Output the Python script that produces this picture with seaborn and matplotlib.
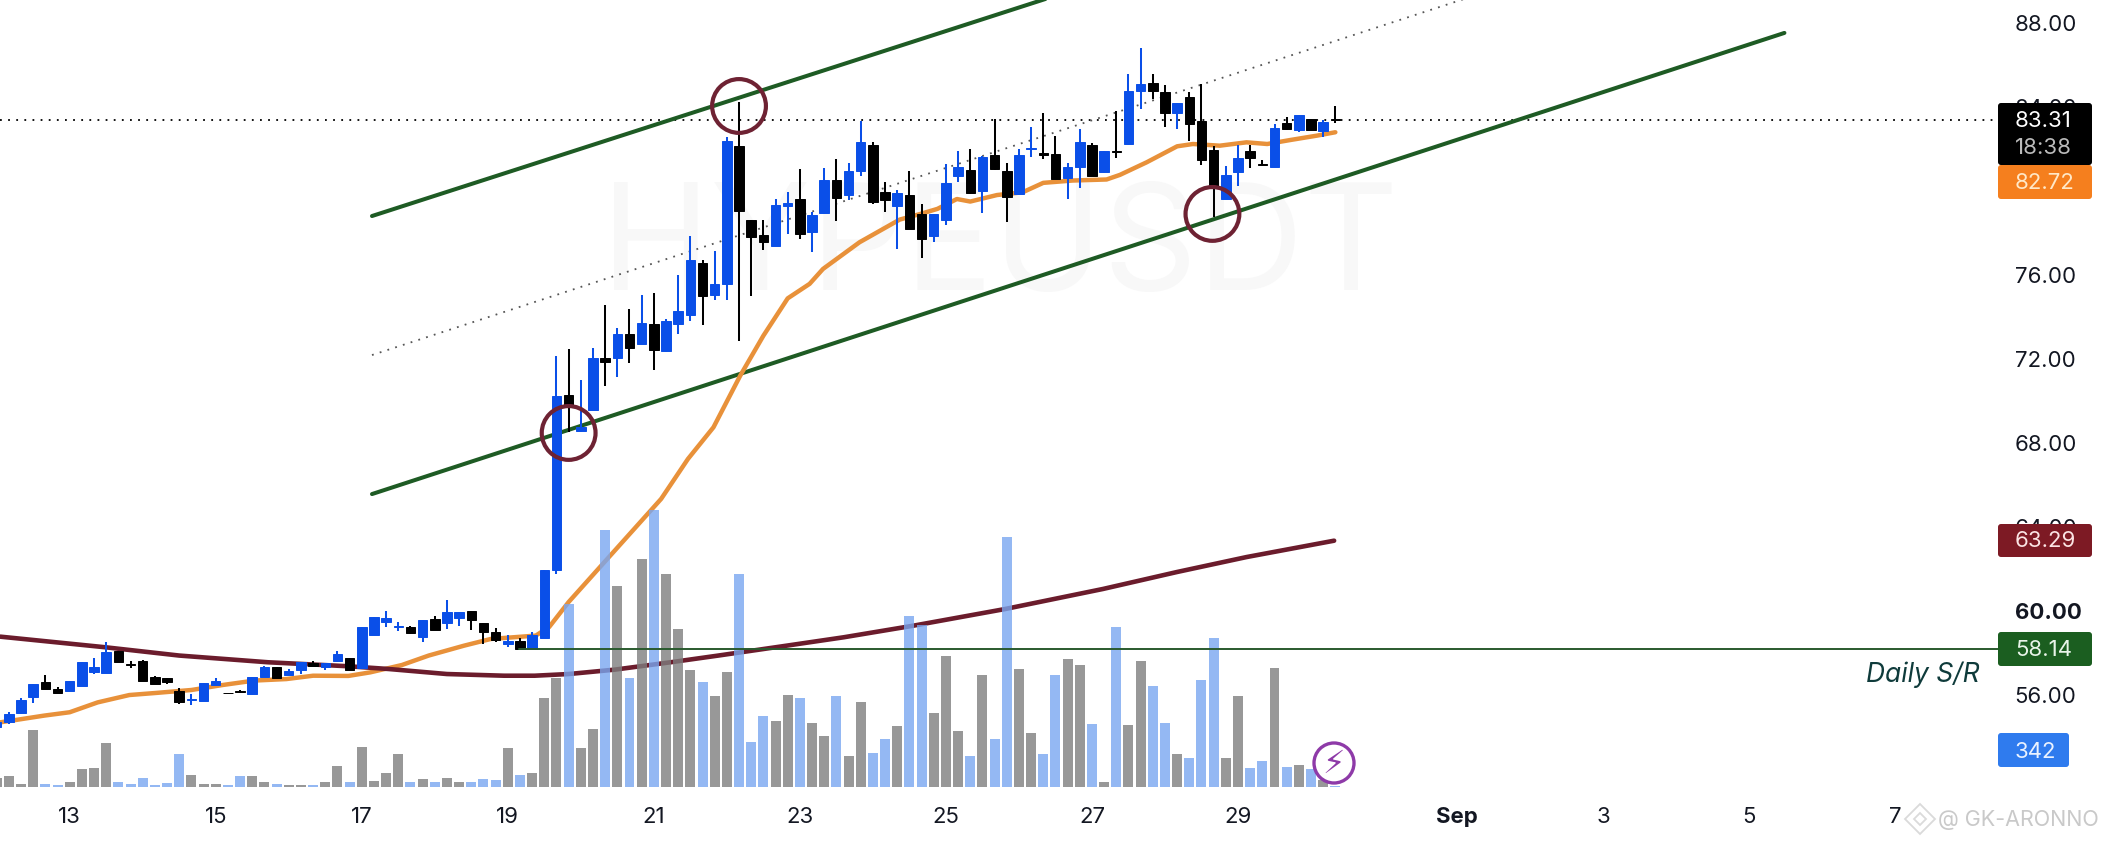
import numpy as np
import pandas as pd
import matplotlib
matplotlib.use('Agg')
import matplotlib.pyplot as plt
import matplotlib.transforms as mtrans
from matplotlib.lines import Line2D
from matplotlib.patches import Circle, FancyBboxPatch
import seaborn as sns

# 4h candles, first one is index -1
opens = [54.42, 54.68, 55.08, 55.87, 56.56, 56.22, 56.16, 56.40, 57.06, 57.02,
         58.03, 57.45, 57.56, 56.81, 56.75, 56.14, 55.70, 55.68, 56.43, 56.07,
         56.12, 56.02, 56.83, 57.27, 56.92, 57.16, 57.46, 57.30, 57.59, 57.70,
         57.22, 58.83, 59.41, 59.21, 59.18, 58.70, 59.57, 59.37, 59.60, 59.94,
         59.37, 58.94, 58.37, 58.51, 58.14, 58.68, 61.92, 70.24, 68.50, 69.54,
         71.99, 72.02, 73.14, 72.67, 73.61, 72.32, 73.62, 74.05, 76.53, 75.00,
         75.54, 82.08, 78.56, 77.86, 77.34, 79.26, 79.57, 78.02, 78.91, 80.46,
         79.76, 80.92, 82.14, 79.89, 79.26, 79.76, 78.84, 77.83, 78.59, 80.69,
         80.96, 79.96, 81.67, 80.91, 79.83, 81.96, 81.75, 81.72, 80.57, 81.10,
         82.15, 80.88, 81.88, 82.19, 84.72, 85.10, 84.65, 83.67, 84.43, 83.29,
         81.91, 79.57, 80.88, 81.84, 81.22, 81.11, 83.18, 82.88, 83.38, 82.81, 83.38]
highs = [54.70, 55.13, 55.80, 56.46, 56.91, 56.33, 56.60, 57.51, 57.72, 58.46,
         58.03, 57.59, 57.60, 56.85, 56.75, 56.27, 56.00, 56.51, 56.75, 56.07,
         56.18, 56.79, 57.35, 57.27, 57.19, 57.51, 57.56, 57.49, 58.05, 57.70,
         59.18, 59.65, 59.95, 59.41, 59.26, 59.51, 59.70, 60.46, 59.89, 59.94,
         59.37, 59.13, 58.81, 58.65, 58.94, 61.89, 72.08, 72.43, 70.95, 72.46,
         74.53, 73.41, 74.33, 75.00, 75.10, 73.86, 75.95, 77.80, 76.65, 77.10,
         82.51, 84.18, 78.56, 78.56, 79.57, 79.89, 81.00, 78.94, 81.05, 81.48,
         81.29, 83.29, 82.27, 80.37, 80.02, 80.92, 79.32, 78.84, 81.22, 81.86,
         81.96, 81.64, 83.38, 81.29, 81.96, 83.00, 83.67, 82.57, 81.29, 82.90,
         82.24, 81.86, 83.76, 85.53, 86.76, 85.53, 85.00, 84.15, 84.65, 85.05,
         82.08, 81.15, 82.15, 82.15, 81.45, 83.13, 83.48, 83.56, 83.38, 83.35, 84.00]
lows = [54.40, 54.57, 55.05, 55.56, 56.22, 56.06, 56.16, 56.40, 56.95, 57.02,
        57.54, 57.24, 56.64, 56.49, 56.48, 55.52, 55.49, 55.66, 56.43, 56.05,
        56.07, 56.02, 56.83, 56.78, 56.92, 56.95, 57.35, 57.16, 57.51, 57.16,
        57.22, 58.83, 59.19, 59.00, 58.84, 58.46, 59.06, 59.08, 59.26, 59.06,
        58.38, 58.46, 58.26, 58.14, 58.14, 58.68, 61.71, 68.49, 68.49, 69.54,
        70.68, 71.11, 71.76, 72.67, 71.45, 72.27, 73.14, 73.78, 73.57, 74.78,
        74.78, 72.83, 74.97, 77.16, 77.34, 77.92, 77.67, 77.07, 78.84, 78.53,
        79.51, 80.68, 79.32, 78.97, 77.19, 78.16, 76.78, 77.54, 78.35, 80.37,
        79.83, 78.91, 80.94, 78.46, 79.78, 81.57, 81.48, 80.53, 79.57, 80.11,
        80.67, 80.81, 81.53, 82.16, 83.86, 84.33, 83.00, 82.90, 82.33, 81.19,
        78.72, 79.57, 80.21, 81.07, 81.17, 81.11, 82.88, 82.78, 82.88, 82.53, 83.19]
closes = [54.65, 55.06, 55.70, 56.46, 56.22, 56.06, 56.60, 57.51, 57.27, 57.99,
          57.54, 57.40, 56.64, 56.49, 56.59, 55.60, 55.75, 56.51, 56.64, 56.05,
          56.09, 56.79, 57.27, 56.78, 57.08, 57.51, 57.35, 57.49, 57.91, 57.16,
          59.18, 59.65, 59.62, 59.23, 58.91, 59.51, 59.06, 59.89, 59.89, 59.54,
          58.97, 58.57, 58.54, 58.14, 58.81, 61.89, 70.18, 69.76, 68.70, 72.00,
          71.83, 73.14, 72.49, 73.67, 72.40, 73.75, 74.22, 76.65, 74.97, 75.51,
          82.34, 79.02, 77.78, 77.54, 79.29, 79.38, 77.92, 78.81, 80.46, 79.64,
          80.89, 82.27, 79.45, 79.54, 79.84, 78.16, 77.68, 78.84, 80.34, 81.11,
          79.86, 81.57, 81.00, 79.69, 81.67, 82.00, 81.68, 80.53, 81.10, 82.29,
          80.67, 81.86, 81.80, 84.72, 85.05, 84.72, 83.67, 84.15, 83.15, 81.45,
          80.18, 80.72, 81.51, 81.54, 81.17, 82.94, 82.91, 83.56, 82.88, 83.23, 83.31]

volume = [9, 11, 3, 57, 3, 2, 5, 18, 19, 44,
          5, 3, 9, 2, 4, 33, 12, 3, 3, 2,
          11, 11, 5, 3, 2, 2, 2, 5, 21, 5,
          40, 6, 14, 33, 5, 8, 5, 9, 5, 5,
          8, 7, 39, 12, 14, 89, 109, 183, 39, 58,
          257, 201, 109, 228, 277, 213, 158, 117, 105, 91,
          115, 213, 45, 71, 66, 92, 89, 64, 51, 91,
          31, 85, 34, 48, 61, 171, 162, 74, 131, 56,
          31, 112, 48, 250, 118, 54, 33, 112, 128, 122,
          63, 5, 160, 62, 126, 101, 64, 33, 29, 107,
          149, 29, 91, 19, 26, 119, 20, 22, 18, 7, 1]
volume_side = list('ggggbbgggg' 'bbbbbbgggb' 'bggbggbggb' 'ggggbgbggb' 'bbgbgggbgg'
                   'bgbgbgggbg' 'gbbbggbggb' 'ggbbgbbggg' 'bgbbggbbgg' 'bgbggbbgbb' 'bggbbgbgbgb')

ema_x = [-0.7, 1, 2.9, 5, 7.3, 9.9, 12.1, 15, 17.6, 20.2, 22.8, 25, 27.9, 29.7, 32.3, 34.5, 37.4, 39.6,
         43.3, 44.4, 46, 48.8, 53.6, 55.8, 57.9, 60.1, 62, 64, 65.8, 66.9, 69.9, 73.2, 74.9, 76.3,
         77.9, 79, 81.2, 83.3, 85, 87.4, 90.2, 91.3, 93.5, 96, 97.3, 99.5, 101.7, 103.4, 105.3, 107.5, 109]
ema_y = [54.65, 54.80, 54.97, 55.13, 55.60, 55.95, 56.05, 56.19, 56.43, 56.64, 56.71, 56.87, 56.86, 57.03,
         57.38, 57.83, 58.30, 58.62, 58.78, 59.19, 60.38, 62.19, 65.29, 67.19, 68.70, 71.16, 73.06, 74.84,
         75.53, 76.24, 77.51, 78.59, 78.86, 79.10, 79.57, 79.45, 79.76, 79.89, 80.34, 80.45, 80.50, 80.72,
         81.32, 82.08, 82.19, 82.11, 82.27, 82.19, 82.38, 82.59, 82.75]
sma_x = [-0.7, 8, 14, 21.3, 27.9, 31.2, 36, 40.7, 43.2, 46, 49.8, 54.5, 58.3, 63.9, 68.6, 74.3, 81.9, 89.9, 96, 101.7, 108.9]
sma_y = [58.73, 58.22, 57.83, 57.51, 57.32, 57.19, 56.95, 56.87, 56.87, 56.95, 57.16, 57.52, 57.83, 58.30,
         58.70, 59.25, 60.05, 61.00, 61.81, 62.52, 63.30]

channel_upper = ([29.84, 85.2], [78.76, 89.10])
channel_mid = ([29.84, 119.6], [72.14, 89.10])
channel_lower = ([29.84, 145.9], [65.52, 87.48])
touch_x = [60, 46, 98.9]
touch_y = [84.0, 68.43, 78.86]

price_ticks = [88, 84, 80, 76, 72, 68, 64, 60, 56]
day_labels = ['13', '15', '17', '19', '21', '23', '25', '27', '29', 'Sep', '3', '5', '7']
day_pos = [5, 17, 29, 41, 53, 65, 77, 89, 101, 119, 131, 143, 155]

last_price = 83.31
daily_sr = 58.14

BLUE = '#0A4FE8'
GREEN = '#1E5B24'
MAROON = '#6B1C2C'
ORANGE = '#E8913A'
INK = '#131722'

sns.set_theme(style='white')
plt.rcParams['font.family'] = ['Inter', 'DejaVu Sans']

W, H = 2116, 845
fig = plt.figure(figsize=(W / 100, H / 100), dpi=100)
ax = fig.add_axes([0, (H - 792) / H, 1998 / W, 792 / H])
ax.set_xlim(-0.726, 163.45)
ax.set_ylim(51.38, 89.095)

df = pd.DataFrame({'i': np.arange(-1, 110), 'o': opens, 'h': highs, 'l': lows, 'c': closes,
                   'vol': volume, 'side': volume_side})
df['col'] = np.where(df['c'] >= df['o'], BLUE, 'black')

# watermark and background lines
ax.text(1000 / 1998, 75.29, 'HYPEUSDT', transform=mtrans.blended_transform_factory(ax.transAxes, ax.transData),
        fontsize=106, color='#F8F8F8', ha='center', va='baseline', zorder=0)
ax.axhline(last_price, color='black', lw=1.3, ls=(0, (1, 3.5)), zorder=1)
ax.plot(*channel_mid, color='#555555', lw=1.3, ls=(0, (1, 3.5)), zorder=1)
ax.plot(*channel_upper, color=GREEN, lw=2.9, zorder=2)
ax.plot(*channel_lower, color=GREEN, lw=2.9, zorder=2)

sns.lineplot(x=ema_x, y=ema_y, color=ORANGE, lw=3.2, sort=False, errorbar=None, ax=ax, zorder=3)
sns.lineplot(x=sma_x, y=sma_y, color=MAROON, lw=3.3, sort=False, errorbar=None, ax=ax, zorder=3)

# candles
ax.vlines(df['i'], df['l'], df['h'], colors=df['col'], lw=1.45, zorder=4)
ax.bar(df['i'], (df['c'] - df['o']).abs(), bottom=df[['o', 'c']].min(axis=1), width=0.78,
       color=df['col'], edgecolor=df['col'], lw=0.7, zorder=5)

ax.scatter(touch_x, touch_y, s=1500, facecolors='none', edgecolors='#6E2233', linewidths=3, zorder=7)

# volume on its own scale, in front of the moving averages
axv = ax.twinx()
sns.barplot(data=df, x='i', y='vol', hue='side', palette={'g': '#7F7F7F', 'b': '#79A6F0'},
            hue_order=['g', 'b'], native_scale=True, dodge=False, width=0.82, saturation=1,
            alpha=0.8, linewidth=0, legend=False, ax=axv)
axv.set_xlim(ax.get_xlim())
axv.set_ylim(-4, 788)
axv.axis('off')
axv.plot([41.9, 163.45], [daily_sr, daily_sr], color='#2A5A2E', lw=1.4, transform=ax.transData)

# twinx moves the price axis to the left, so the ticks go after it
ax.yaxis.tick_right()
ax.set_yticks(price_ticks)
ax.set_yticklabels([f'{p:.2f}' for p in price_ticks])
ax.set_xticks(day_pos)
ax.set_xticklabels(day_labels)
ax.tick_params(axis='y', length=0, pad=12, labelsize=16, labelcolor=INK)
ax.tick_params(axis='x', length=0, pad=11, labelsize=16, labelcolor=INK)
for lab in ax.get_yticklabels():
    if lab.get_text() == '60.00':
        lab.set_fontweight('bold')
for lab in ax.get_xticklabels():
    if lab.get_text() == 'Sep':
        lab.set_fontweight('bold')
sns.despine(ax=ax, left=True, bottom=True, right=True, top=True)
ax.set_xlabel('')
ax.set_ylabel('')


def px_box(x0, y0, x1, y1, color):
    fig.add_artist(FancyBboxPatch((x0, H - y1), x1 - x0, y1 - y0, boxstyle='round,pad=0,rounding_size=3',
                                  fc=color, ec='none', transform=mtrans.IdentityTransform(), zorder=5))


def px_text(x, y, s, **kw):
    fig.text(x / W, 1 - y / H, s, va='center', zorder=6, **kw)


px_box(1998, 104, 2092, 166, 'black')
px_box(1998, 166, 2092, 200, '#F57F1E')
px_box(1998, 525, 2092, 558, '#7D1A24')
px_box(1998, 633, 2092, 667, '#1B5E20')
px_box(1998, 734, 2069, 768, '#2F7BEE')
px_text(2015, 120.7, '83.31', color='white', fontsize=16)
px_text(2015, 148, '18:38', color='#BBBBBB', fontsize=16)
px_text(2015, 183, '82.72', color='#FFE8C8', fontsize=16)
px_text(2015, 541, '63.29', color='#FBE4E4', fontsize=16)
px_text(2015, 650, '58.14', color='#E8F4E8', fontsize=16)
px_text(2015, 752, '342', color='#EAF2FF', fontsize=16)
px_text(1866, 675, 'Daily S/R', color='#0F3B3B', fontsize=19, style='italic')

# bolt badge
fig.add_artist(Circle((1334, H - 764), 20, fc='white', ec='#8E3AA8', lw=2.4,
                      transform=mtrans.IdentityTransform(), zorder=5))
fig.text(1334 / W, 1 - 764 / H, '\u26a1', color='#8E3AA8', fontsize=23, ha='center', va='center',
         family='DejaVu Sans', zorder=6)

# site watermark, bottom right
for ms, mew in [(15, 1.3), (6, 1.3)]:
    fig.add_artist(Line2D([1920], [H - 820], marker='D', ms=ms, mfc='none', mec='#DADADA', mew=mew,
                          transform=mtrans.IdentityTransform(), zorder=5))
px_text(1938, 820, '@ GK-ARONNO', color='#C9C9C9', fontsize=15.5)

fig.savefig('out.png', dpi=100)
